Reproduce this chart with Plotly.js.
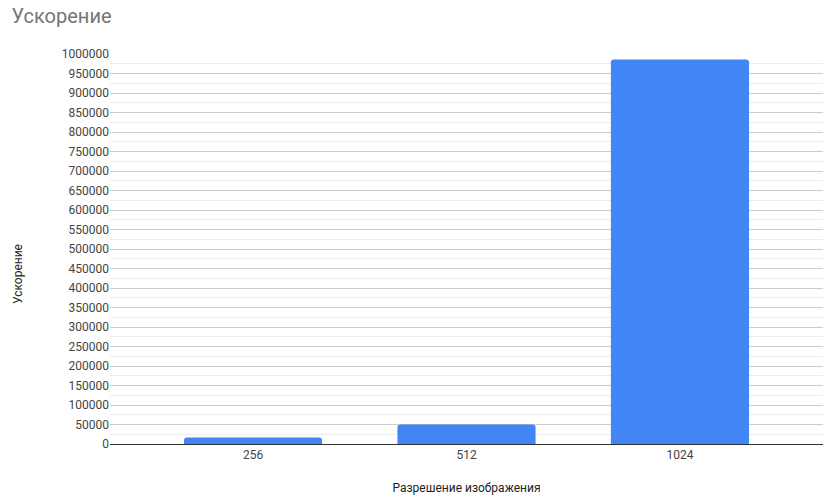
<!DOCTYPE html>
<html>
<head>
<meta charset="utf-8">
<script src="https://cdn.plot.ly/plotly-3.0.1.min.js"></script>
<style>
  body { margin: 0; background: #fff; }
  #chart { width: 830px; height: 502px; }
</style>
</head>
<body>
<div id="chart"></div>
<script>
var resolutions = ["256", "512", "1024"];
var speedup = [16700, 50000, 986000];

var dataset = [
    {
        x: resolutions,
        y: speedup,
        type: "bar",
        marker: { color: "#4285F4" },
        hoverinfo: "x+y",
    },
];

var layout = {
    width: 830,
    height: 502,
    margin: { l: 110, r: 7, t: 54, b: 58 },
    font: { family: "Roboto, Arial, sans-serif", size: 12, color: "#222" },
    title: {
        text: "Ускорение",
        font: { size: 20, color: "#757575" },
        x: 0.014,
        xanchor: "left",
        y: 0.983,
        yanchor: "top",
    },
    bargap: 0.353,
    barcornerradius: 3,
    showlegend: false,
    xaxis: {
        type: "category",
        range: [-0.67, 2.67],
        title: { text: "Разрешение изображения", font: { size: 12, color: "#222" }, standoff: 22 },
        showgrid: false,
        showline: true,
        linecolor: "#333",
        ticks: "",
        tickfont: { size: 12, color: "#444" },
    },
    yaxis: {
        range: [0, 1000000],
        dtick: 50000,
        tickformat: "d",
        gridcolor: "#cccccc",
        zeroline: false,
        ticks: "",
        tickfont: { size: 12, color: "#444" },
        minor: { dtick: 25000, showgrid: true, gridcolor: "#ececec" },
        automargin: false,
    },
    // y title sits a bit below the plot centre in the original
    annotations: [
        {
            text: "Ускорение",
            textangle: -90,
            xref: "paper",
            yref: "paper",
            x: -0.129,
            y: 0.436,
            xanchor: "center",
            yanchor: "middle",
            showarrow: false,
            font: { size: 12, color: "#222" },
        },
    ],
    plot_bgcolor: "#fff",
    paper_bgcolor: "#fff",
};

Plotly.newPlot("chart", dataset, layout, { displayModeBar: false });
</script>
</body>
</html>
